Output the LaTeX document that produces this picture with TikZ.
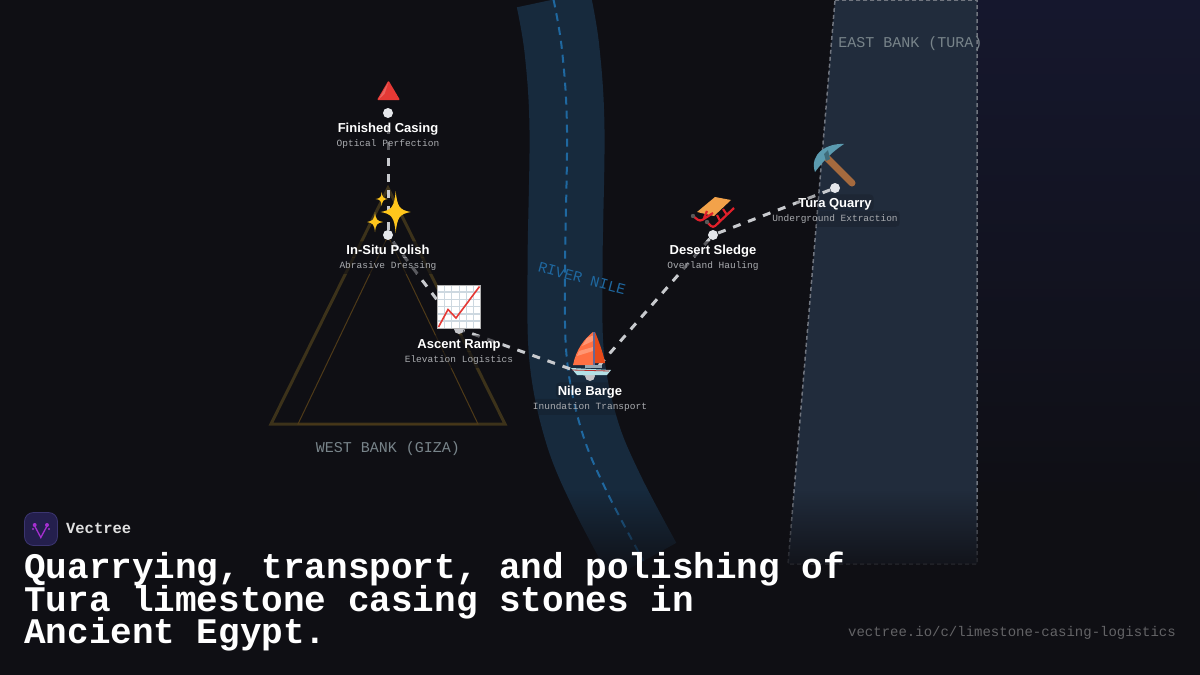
\documentclass[tikz,border=0pt]{standalone}
\usepackage{fontspec}
\setmainfont{Liberation Sans}
\setmonofont{Liberation Mono}
\usetikzlibrary{positioning,fadings}
\definecolor{nightbg}{RGB}{15,15,20}
\definecolor{tintbg}{RGB}{22,24,46}
\definecolor{bankblue}{RGB}{33,44,60}
\definecolor{bankedge}{RGB}{112,117,127}
\definecolor{nileblue}{RGB}{23,42,61}
\definecolor{niledash}{RGB}{31,104,160}
\definecolor{pyrouter}{RGB}{60,50,26}
\definecolor{pyrinner}{RGB}{78,58,24}
\definecolor{linkgray}{RGB}{200,202,206}
\definecolor{dotwhite}{RGB}{229,231,235}
\definecolor{banklabel}{RGB}{120,132,138}
\definecolor{sublabel}{RGB}{170,172,176}
\definecolor{iconred}{RGB}{229,57,53}
\definecolor{sparkyellow}{RGB}{255,198,28}
\definecolor{sailorange}{RGB}{255,112,67}
\definecolor{sailstripe}{RGB}{255,150,115}
\definecolor{saildark}{RGB}{230,74,25}
\definecolor{cabingray}{RGB}{150,168,178}
\definecolor{hullblue}{RGB}{178,224,230}
\definecolor{sledwood}{RGB}{242,162,74}
\definecolor{sledred}{RGB}{224,32,42}
\definecolor{pickwood}{RGB}{165,106,62}
\definecolor{pickhead}{RGB}{91,155,176}
\definecolor{chartgrid}{RGB}{205,216,224}
\definecolor{logofill}{RGB}{36,31,77}
\definecolor{logoedge}{RGB}{59,53,112}
\definecolor{logomark}{RGB}{165,47,208}

\begin{document}
\begin{tikzpicture}[
    x=1pt, y=-1pt,
    dot/.style={circle, fill=dotwhite, inner sep=0pt, minimum size=10pt},
    link/.style={draw=linkgray, line width=3pt, dash pattern=on 8pt off 8pt},
    tagname/.style={rectangle, rounded corners=4pt, fill=nightbg, fill opacity=0.6, text opacity=1,
                    text=white, font=\fontsize{13}{15}\selectfont\bfseries,
                    text height=12pt, text depth=1pt, inner xsep=2pt, inner ysep=1.5pt},
    tagsub/.style={rectangle, rounded corners=4pt, fill=nightbg, fill opacity=0.6, text opacity=1,
                   text=sublabel, font=\fontsize{9.5}{11}\selectfont\ttfamily,
                   text height=7pt, text depth=2pt, inner xsep=2pt, inner ysep=3.5pt},
    banktext/.style={text=banklabel, font=\fontsize{15}{17}\selectfont\ttfamily, inner sep=0pt},
    titleline/.style={anchor=base west, inner sep=0pt, text=white, font=\fontsize{36}{40}\selectfont\ttfamily\bfseries},
    sparkle/.pic={\fill[sparkyellow] (0,-1) .. controls (0.1,-0.25) and (0.25,-0.1) .. (1,0)
                  .. controls (0.25,0.1) and (0.1,0.25) .. (0,1)
                  .. controls (-0.1,0.25) and (-0.25,0.1) .. (-1,0)
                  .. controls (-0.25,-0.1) and (-0.1,-0.25) .. (0,-1) -- cycle;},
    casingicon/.pic={\fill[iconred, rounded corners=1pt] (0,-10.5) -- (11.5,9) -- (-11.5,9) -- cycle;
                     \fill[iconred!80!white] (0,-9) -- (-4,3) -- (-10,8.5) -- cycle;},
    charticon/.pic={\fill[white] (-21.5,-21.5) rectangle (21.5,21.5);
                    \foreach \g in {-14.3,-7.2,0,7.2,14.3} {
                      \draw[chartgrid, line width=1pt] (\g,-21.5) -- (\g,21.5);
                      \draw[chartgrid, line width=1.6pt] (-21.5,\g) -- (21.5,\g);}
                    \draw[black!30, line width=0.6pt] (-21.5,-21.5) rectangle (21.5,21.5);
                    \draw[iconred, line width=1.6pt] (-20.5,20.5) -- (-11,3) -- (-3,11.5) -- (20.5,-20);},
    boaticon/.pic={\fill[sailorange] (3,-20) .. controls (-6,-13) and (-14,-2) .. (-17,13) -- (3,13) -- cycle;
                   \fill[sailstripe] (-3,-14) -- (3,-16.5) -- (3,-11) -- (-8,-6) -- cycle
                                     (-11,-1) -- (3,-5) -- (3,-1) -- (-13,4) -- cycle;
                   \fill[saildark] (5,-20) .. controls (10,-8) and (14,4) .. (15,11) -- (5,11) -- cycle;
                   \draw[black!70!blue!60!white, line width=1.2pt] (4,-20) -- (4,16);
                   \fill[cabingray] (-5,13) rectangle (12,16);
                   \fill[hullblue] (-19,16) -- (21,18) -- (17,23) -- (-13,23) -- cycle;
                   \draw[iconred!80!black, line width=0.8pt] (-18,18) -- (19,19);},
    sledicon/.pic={\fill[sledwood] (2,-15) -- (18,-12) -- (1,4) -- (-16,0) -- cycle;
                   \draw[sledred, line width=2.2pt, rounded corners=3pt] (-20,4) -- (-13,9.5) -- (0,1) (-9,6) -- (-6,-1);
                   \draw[sledred, line width=2.2pt, rounded corners=3pt] (-6,10) -- (0,16) -- (21,-4) (7,9) -- (4,3) (14,3) -- (10,-3);
                   \fill[black!65] (-20,4) circle (2.2pt) (-6,10) circle (2.2pt);},
    pickicon/.pic={\draw[pickwood, line width=7pt, line cap=round] (-9,-8) -- (17,18);
                   \fill[pickhead] (-20,7) .. controls (-26,-11) and (-8,-22) .. (9,-21)
                                   .. controls (-3,-13) and (-11,-5) .. (-20,7) -- cycle;
                   \fill[pickhead!70!black] (-11,-11) -- (-7,-15) -- (-5,-6) -- (-9,-4) -- cycle;}
]

\useasboundingbox (0,0) rectangle (1200,675);
\fill[nightbg] (0,0) rectangle (1200,675);
\fill[tintbg, path fading=south] (975,0) rectangle (1200,520);

% river
\draw[nileblue, line width=75pt] plot[smooth, tension=0.6] coordinates
    {(553.5,-0.5) (562,50) (567,130) (565,270) (567,360) (582,432) (607,492) (643.5,561)};
\draw[niledash, line width=2pt, dash pattern=on 8pt off 6pt] plot[smooth, tension=0.6] coordinates
    {(553.5,-0.5) (562,50) (567,130) (565,270) (567,360) (582,432) (607,492) (643.5,561)};
\node[text=niledash, font=\fontsize{15}{17}\selectfont\ttfamily, rotate=-15, inner sep=0pt] (nile) at (582,278.5) {RIVER NILE};

% east bank
\draw[fill=bankblue, draw=bankedge, line width=1.5pt, dash pattern=on 4pt off 3pt]
    (835,0) -- (977,0) -- (977,564) -- (788,564) -- cycle;
\node[banktext] (eastbank) at (910.5,43.5) {EAST BANK (TURA)};

% pyramid
\draw[pyrouter, line width=3pt] (388,188) -- (505,424) -- (271,424) -- cycle;
\draw[pyrinner, line width=1pt] (388,236) -- (478,424) -- (298,424) -- cycle;
\node[banktext] (westbank) at (388,449) {WEST BANK (GIZA)};

% fade out
\fill[nightbg, path fading=north] (0,490) rectangle (1200,580);

% stations
\node[dot] (quarry) at (835,188) {};
\node[dot] (sledge) at (713,235) {};
\node[dot, fill=dotwhite!85!black] (barge) at (590,376) {};
\node[dot, fill=dotwhite!85!black] (ramp) at (459,329) {};
\node[dot] (polish) at (388,235) {};
\node[dot] (casing) at (388,113) {};

\draw[link] (quarry) -- (sledge);
\draw[link] (sledge) -- (barge);
\draw[link] (barge) -- (ramp);
\draw[link] (ramp) -- (polish);
\draw[link] (polish) -- (casing);

\node[tagname, fill opacity=0.2, below=1pt of quarry] (quarryname) {Tura Quarry};
\node[tagsub, fill opacity=0.2, below=0pt of quarryname] (quarrysub) {Underground Extraction};
\node[tagname, below=1pt of sledge] (sledgename) {Desert Sledge};
\node[tagsub, below=0pt of sledgename] (sledgesub) {Overland Hauling};
\node[tagname, fill opacity=0.2, below=1pt of barge] (bargename) {Nile Barge};
\node[tagsub, fill opacity=0.2, below=0pt of bargename] (bargesub) {Inundation Transport};
\node[tagname, below=1pt of ramp] (rampname) {Ascent Ramp};
\node[tagsub, below=0pt of rampname] (rampsub) {Elevation Logistics};
\node[tagname, below=1pt of polish] (polishname) {In-Situ Polish};
\node[tagsub, below=0pt of polishname] (polishsub) {Abrasive Dressing};
\node[tagname, below=1pt of casing] (casingname) {Finished Casing};
\node[tagsub, below=0pt of casingname] (casingsub) {Optical Perfection};

% icons
\pic at (835,165) {pickicon};
\pic at (713,212) {sledicon};
\pic at (590,352) {boaticon};
\pic at (459,306.5) {charticon};
\pic[xscale=15, yscale=21] at (395.7,212) {sparkle};
\pic[xscale=8, yscale=10] at (375,222) {sparkle};
\pic[xscale=6, yscale=7] at (381.7,199) {sparkle};
\pic at (388.5,91) {casingicon};

% footer
\node[rectangle, rounded corners=9pt, fill=logofill, draw=logoedge, line width=0.8pt,
      minimum size=33pt, inner sep=0pt] (logo) at (41,529) {};
\draw[logomark, line width=1.3pt] (34.7,526) -- (40.8,537.5) -- (47,526);
\fill[logomark] (34.7,525) circle (2pt) (47,525) circle (2pt) (33,529) circle (1.2pt) (49,529) circle (1.2pt);
\node[right=8pt of logo, yshift=1pt, inner sep=0pt, text=white!88!black, font=\fontsize{15.5}{18}\selectfont\ttfamily\bfseries] (brand) {Vectree};
\node[titleline] (title1) at (24,578.5) {Quarrying, transport, and polishing of};
\node[titleline] (title2) at (24,611) {Tura limestone casing stones in};
\node[titleline] (title3) at (24,643.5) {Ancient Egypt.};
\node[anchor=east, inner sep=0pt, text=white!35!nightbg, font=\fontsize{14}{16}\selectfont\ttfamily] (url) at (1176,633)
    {vectree.io/c/limestone-casing-logistics};

\end{tikzpicture}
\end{document}
